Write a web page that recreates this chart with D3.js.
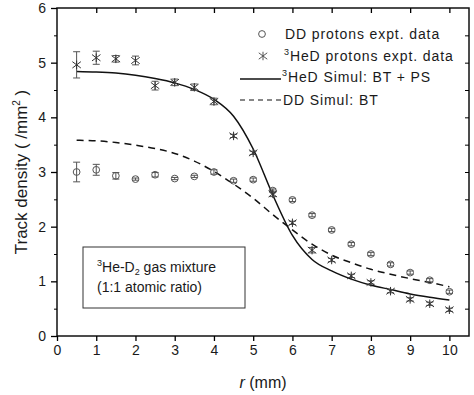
<!DOCTYPE html>
<meta charset="utf-8">
<script src="https://d3js.org/d3.v7.min.js"></script>
<style>
  body { margin: 0; background: #fff; }
  text { font-family: "Liberation Sans", Arial, sans-serif; fill: #1a1a1a; }
</style>
<svg width="474" height="395"></svg>

<script>
    // radial position (mm)
    const r = [0.5, 1, 1.5, 2, 2.5, 3, 3.5, 4, 4.5, 5, 5.5, 6, 6.5, 7, 7.5, 8, 8.5, 9, 9.5, 10];

    // 3HeD protons, experiment
    const heExp = [4.96, 5.09, 5.07, 5.04, 4.58, 4.64, 4.55, 4.29, 3.66, 3.35, 2.60, 2.07, 1.57, 1.39, 1.10, 0.98, 0.82, 0.67, 0.59, 0.48];
    const heErr = [0.24, 0.12, 0.06, 0.08, 0.08, 0.06, 0.06, 0.06, 0.03, 0.03, 0.05, 0.03, 0.05, 0.03, 0.03, 0.03, 0.03, 0.03, 0.03, 0.03];

    // DD protons, experiment
    const ddExp = [3.00, 3.04, 2.93, 2.87, 2.95, 2.88, 2.92, 3.00, 2.84, 2.86, 2.66, 2.49, 2.21, 1.94, 1.68, 1.50, 1.31, 1.16, 1.02, 0.81];
    const ddErr = [0.18, 0.10, 0.06, 0.02, 0.04, 0.02, 0.02, 0.04, 0.03, 0.03, 0.03, 0.03, 0.03, 0.03, 0.03, 0.03, 0.03, 0.03, 0.03, 0.03];

    // simulations
    const heSim = [4.84, 4.83, 4.81, 4.77, 4.71, 4.63, 4.51, 4.33, 4.02, 3.42, 2.58, 1.84, 1.40, 1.19, 1.04, 0.93, 0.85, 0.77, 0.71, 0.66];
    const ddSim = [3.58, 3.57, 3.54, 3.49, 3.43, 3.34, 3.20, 3.01, 2.78, 2.52, 2.22, 1.94, 1.68, 1.48, 1.34, 1.22, 1.13, 1.05, 0.98, 0.90];

    const xTicks = [0, 1, 2, 3, 4, 5, 6, 7, 8, 9, 10];
    const yTicks = [0, 1, 2, 3, 4, 5, 6];
    const yMinor = [0.5, 1.5, 2.5, 3.5, 4.5, 5.5];
    const yRight = [0.5, 1, 1.5, 2, 2.5, 3, 3.5, 4, 4.5, 5, 5.5];

    const svg = d3.select("svg");
    const pL = 57, pR = 469, pT = 8, pB = 336;

    const x = d3.scaleLinear().domain([0, 10.5]).range([pL, pR]);
    const y = d3.scaleLinear().domain([0, 6]).range([pB, pT]);

    const grey = "#555";

    // frame
    svg.append("rect")
        .attr("x", pL).attr("y", pT)
        .attr("width", pR - pL).attr("height", pB - pT)
        .attr("fill", "none").attr("stroke", "#111").attr("stroke-width", 1.5);

    // bottom axis
    const gx = svg.append("g")
        .attr("transform", "translate(0," + pB + ")")
        .call(d3.axisBottom(x).tickValues(xTicks).tickSize(5).tickPadding(4).tickFormat(d3.format("d")));
    gx.select(".domain").remove();
    gx.selectAll("text").style("font-size", "14px").attr("fill", "#1a1a1a");
    gx.selectAll("line").attr("stroke-width", 1.3);

    // top axis (inward ticks)
    const gt = svg.append("g")
        .attr("transform", "translate(0," + pT + ")")
        .call(d3.axisBottom(x).tickValues(xTicks.slice(1)).tickSize(5).tickFormat(""));
    gt.select(".domain").remove();
    gt.selectAll("line").attr("stroke-width", 1.3);

    // left axis
    const gy = svg.append("g")
        .attr("transform", "translate(" + pL + ",0)")
        .call(d3.axisLeft(y).tickValues(yTicks).tickSize(6).tickPadding(5).tickFormat(d3.format("d")));
    gy.select(".domain").remove();
    gy.selectAll("text").style("font-size", "14px").attr("fill", "#1a1a1a");
    gy.selectAll("line").attr("stroke-width", 1.3);

    const gym = svg.append("g")
        .attr("transform", "translate(" + pL + ",0)")
        .call(d3.axisLeft(y).tickValues(yMinor).tickSize(3).tickFormat(""));
    gym.select(".domain").remove();

    // right axis (inward ticks)
    const gr = svg.append("g")
        .attr("transform", "translate(" + pR + ",0)")
        .call(d3.axisLeft(y).tickValues(yRight).tickSize(4).tickFormat(""));
    gr.select(".domain").remove();

    // axis titles
    const yl = svg.append("text")
        .attr("transform", "translate(27," + (pT + pB) / 2 + ") rotate(-90)")
        .attr("text-anchor", "middle")
        .style("font-size", "17px");
    yl.append("tspan").text("Track density ( /mm");
    yl.append("tspan").text("2").attr("dy", -7).style("font-size", "10px");
    yl.append("tspan").text(" )").attr("dy", 7);

    const xl = svg.append("text")
        .attr("x", (pL + pR) / 2).attr("y", 388)
        .attr("text-anchor", "middle")
        .style("font-size", "16px");
    xl.append("tspan").text("r").style("font-style", "italic");
    xl.append("tspan").text(" (mm)");

    // simulation curves
    const line = d3.line()
        .x((d, i) => x(r[i]))
        .y(d => y(d))
        .curve(d3.curveMonotoneX);

    svg.append("path")
        .attr("d", line(heSim))
        .attr("fill", "none").attr("stroke", "#111").attr("stroke-width", 1.5);

    svg.append("path")
        .attr("d", line(ddSim))
        .attr("fill", "none").attr("stroke", "#111").attr("stroke-width", 1.5)
        .attr("stroke-dasharray", "7,5");

    // error bars
    function errorBars(vals, errs) {
        const g = svg.append("g").attr("stroke", grey).attr("stroke-width", 1);
        const pts = vals.map((v, i) => ({x: r[i], v: v, e: errs[i]}));
        g.selectAll(".v").data(pts).enter().append("line")
            .attr("x1", d => x(d.x)).attr("x2", d => x(d.x))
            .attr("y1", d => y(d.v + d.e)).attr("y2", d => y(d.v - d.e));
        [1, -1].forEach(s => {
            g.selectAll(".c" + s).data(pts).enter().append("line")
                .attr("x1", d => x(d.x) - 3.5).attr("x2", d => x(d.x) + 3.5)
                .attr("y1", d => y(d.v + s * d.e)).attr("y2", d => y(d.v + s * d.e));
        });
    }
    errorBars(ddExp, ddErr);
    errorBars(heExp, heErr);

    // six-arm star: a cross with a vertical bar
    const starType = {
        draw(ctx, size) {
            const h = Math.sqrt(size) / 2;
            ctx.moveTo(0, -h); ctx.lineTo(0, h);
            ctx.moveTo(-h, -h * 0.75); ctx.lineTo(h, h * 0.75);
            ctx.moveTo(-h, h * 0.75); ctx.lineTo(h, -h * 0.75);
        }
    };

    const circleSym = d3.symbol().type(d3.symbolCircle).size(36);
    const starSym = d3.symbol().type(starType).size(72);

    svg.append("g").selectAll("path")
        .data(ddExp).enter().append("path")
        .attr("d", circleSym)
        .attr("transform", (d, i) => "translate(" + x(r[i]) + "," + y(d) + ")")
        .attr("fill", "none").attr("stroke", grey).attr("stroke-width", 1);

    svg.append("g").selectAll("path")
        .data(heExp).enter().append("path")
        .attr("d", starSym)
        .attr("transform", (d, i) => "translate(" + x(r[i]) + "," + y(d) + ")")
        .attr("fill", "none").attr("stroke", "#333").attr("stroke-width", 1);

    // legend
    const lg = svg.append("g").style("font-size", "14px").style("letter-spacing", "0.9px");
    lg.append("path").attr("d", circleSym).attr("transform", "translate(262,34)")
        .attr("fill", "none").attr("stroke", grey);
    lg.append("text").attr("x", 285).attr("y", 39).text("DD protons expt. data");

    lg.append("path").attr("d", starSym).attr("transform", "translate(263,56)")
        .attr("fill", "none").attr("stroke", grey);
    const t2 = lg.append("text").attr("x", 284).attr("y", 61);
    t2.append("tspan").text("3").attr("dy", -6).style("font-size", "9px");
    t2.append("tspan").text("HeD protons expt. data").attr("dy", 6);

    lg.append("line").attr("x1", 240).attr("x2", 281).attr("y1", 79).attr("y2", 79)
        .attr("stroke", "#111").attr("stroke-width", 1.5);
    const t3 = lg.append("text").attr("x", 282).attr("y", 82);
    t3.append("tspan").text("3").attr("dy", -6).style("font-size", "9px");
    t3.append("tspan").text("HeD Simul: BT + PS").attr("dy", 6);

    lg.append("line").attr("x1", 240).attr("x2", 281).attr("y1", 100).attr("y2", 100)
        .attr("stroke", "#111").attr("stroke-width", 1.2).attr("stroke-dasharray", "5,4");
    lg.append("text").attr("x", 283).attr("y", 105).text("DD Simul: BT");

    // inset box
    svg.append("rect")
        .attr("x", 83).attr("y", 247).attr("width", 162).attr("height", 61)
        .attr("fill", "#fff").attr("stroke", "#333").attr("stroke-width", 1);
    const b1 = svg.append("text").attr("x", 97).attr("y", 272).style("font-size", "14px");
    b1.append("tspan").text("3").attr("dy", -6).style("font-size", "9px");
    b1.append("tspan").text("He-D").attr("dy", 6);
    b1.append("tspan").text("2").attr("dy", 3).style("font-size", "9px");
    b1.append("tspan").text(" gas mixture").attr("dy", -3);
    svg.append("text").attr("x", 97).attr("y", 292).style("font-size", "14px")
        .text("(1:1 atomic ratio)");
</script>
